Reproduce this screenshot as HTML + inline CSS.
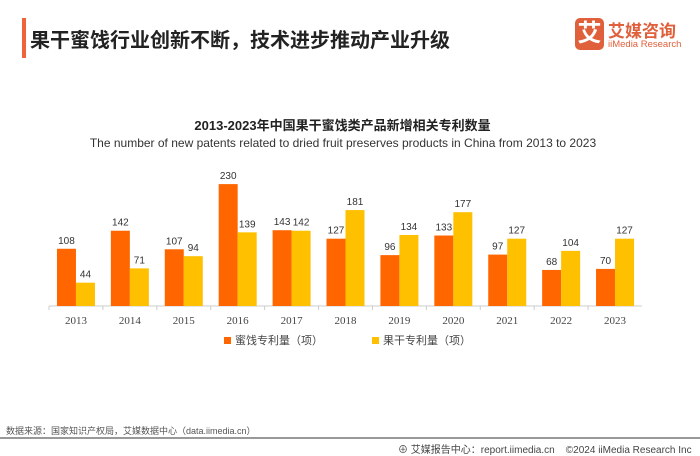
<!DOCTYPE html>
<html><head><meta charset="utf-8"><style>
body{margin:0;width:700px;height:455px;background:#fff;font-family:"Liberation Sans","Noto Sans CJK SC",sans-serif;position:relative;overflow:hidden}
.a{position:absolute;white-space:nowrap}
</style></head><body>
<div class="a" style="left:22px;top:18px;width:4px;height:40px;background:#f0643c"></div>
<div class="a" style="left:30px;top:24px;font-size:20px;font-weight:bold;color:#222">果干蜜饯行业创新不断，技术进步推动产业升级</div>
<div class="a" style="left:575px;top:18px;width:29px;height:32px;background:#e0603c;border-radius:5px;color:#fff;font-size:24px;font-weight:bold;text-align:center;line-height:32px">艾</div>
<div class="a" style="left:608px;top:17px;font-size:17px;font-weight:bold;color:#e0603c">艾媒咨询</div>
<div class="a" style="left:608px;top:39px;font-size:9.5px;color:#e0603c">iiMedia Research</div>
<div class="a" style="left:0;width:685px;text-align:center;top:115px;font-size:13px;font-weight:bold;color:#222">2013-2023年中国果干蜜饯类产品新增相关专利数量</div>
<div class="a" style="left:0;width:686px;text-align:center;top:136px;font-size:12px;color:#333">The number of new patents related to dried fruit preserves products in China from 2013 to 2023</div>
<svg class="a" style="left:0;top:0" width="700" height="455">
<g id="g"></g>
</svg>
<div class="a" style="left:224px;top:332px;font-size:11px;color:#444"><span style="display:inline-block;width:7px;height:7px;background:#ff6600;margin-right:4px"></span>蜜饯专利量（项）</div>
<div class="a" style="left:372px;top:332px;font-size:11px;color:#444"><span style="display:inline-block;width:7px;height:7px;background:#ffc000;margin-right:4px"></span>果干专利量（项）</div>
<div class="a" style="left:6px;top:424px;font-size:9px;color:#555">数据来源：国家知识产权局，艾媒数据中心（data.iimedia.cn）</div>
<div class="a" style="left:0;top:437px;width:700px;height:2px;background:#999"></div>
<div class="a" style="left:398px;top:441px;font-size:10px;color:#444">⊕ 艾媒报告中心：report.iimedia.cn &nbsp;&nbsp; ©2024 iiMedia Research Inc</div>
<script>
const categories=["2013","2014","2015","2016","2017","2018","2019","2020","2021","2022","2023"];
const candied=[108,142,107,230,143,127,96,133,97,68,70];
const dried=[44,71,94,139,142,181,134,177,127,104,127];
const ns="http://www.w3.org/2000/svg",g=document.getElementById('g');
const x0=49,x1=642,base=306,k=0.53,step=(x1-x0)/categories.length,bw=19;
const y=v=>base-v*k;
function mk(t,a){const e=document.createElementNS(ns,t);for(const n in a)e.setAttribute(n,a[n]);g.appendChild(e);return e;}
let ax=mk('line',{x1:x0,x2:x1,y1:base,y2:base,stroke:'#ccc'});


categories.forEach((c,i)=>{
 const cx=x0+step*(i+0.5);
 let tk=mk('line',{x1:x0+step*i,x2:x0+step*i,y1:base,y2:base+4,stroke:'#ccc'});
 
 
 [[candied[i],cx-bw,'#ff6600','bar-candied-'+c],[dried[i],cx,'#ffc000','bar-dried-'+c]].forEach(([v,bx,col,nm])=>{
  let r=mk('rect',{x:bx,y:y(v),width:bw,height:v*k,fill:col});
  
  
  let t=mk('text',{x:bx+bw/2,y:y(v)-5,'text-anchor':'middle','font-size':10,fill:'#333'});
  t.textContent=v;
  
  
 });
 let l=mk('text',{x:cx,y:base+18,'text-anchor':'middle','font-size':11,fill:'#444','font-family':'Liberation Serif,serif'});
 l.textContent=c;
 
 
});
</script>
</body></html>
